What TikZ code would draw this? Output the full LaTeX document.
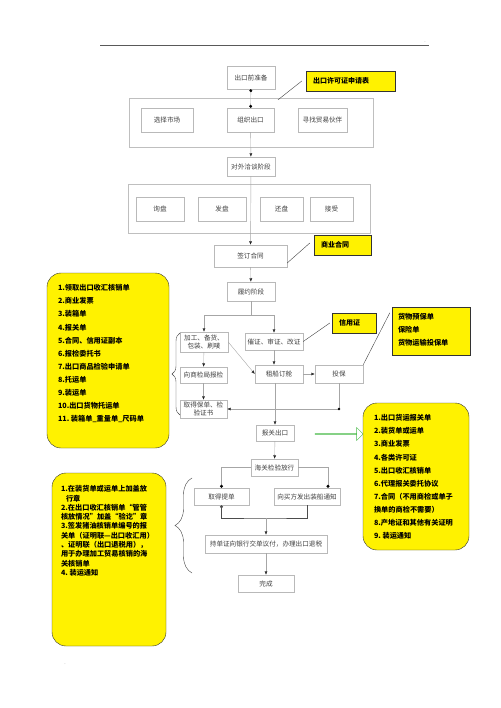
\documentclass[tikz,border=0pt]{standalone}
\usepackage{fontspec}
\setmainfont{Noto Sans CJK SC}
\usepackage{tikz}
\usetikzlibrary{arrows.meta,shapes.arrows,decorations.pathreplacing}

\begin{document}
\begin{tikzpicture}[x=1pt,y=-1pt,
  grybox/.style={draw=gray!55, fill=white, text=black!75, font=\fontsize{6.6}{8}\selectfont, inner sep=1pt, align=center, minimum width=48pt, minimum height=18pt},
  framebox/.style={draw=gray!50, inner sep=0pt},
  notebox/.style={draw=black!80, fill=yellow, font=\bfseries\fontsize{7}{8}\selectfont, inner xsep=7pt, inner ysep=0pt, align=left, minimum height=20pt},
  docbox/.style={draw=black!80, fill=yellow, rounded corners=14pt, inner sep=0pt},
  doctext/.style={font=\bfseries\fontsize{7.2}{13.1}\selectfont, align=left, inner sep=0pt, anchor=north west},
  conn/.style={draw=gray!70, -{Latex[length=3.5pt,width=3pt,color=black!85]}},
  dotend/.style={-{Circle[length=3pt,color=black]}},
  link/.style={draw=gray!70},
  pin/.style={draw=black!75}]
\useasboundingbox (0,0) rectangle (500,708);

\draw [gray!70!black, semithick] (100,45) -- (429,45);
\node [font=\tiny, text=gray, inner sep=0pt] (dotA) at (425,42) {.};
\node [font=\tiny, text=gray, inner sep=0pt] (dotB) at (65,664) {.};

% frames behind the boxes
\node [framebox, minimum width=244pt, minimum height=49pt] (orgframe) at (251,122.5) {};
\node [framebox, minimum width=242pt, minimum height=49pt] (negoframe) at (249,208.5) {};

\node [grybox, minimum height=23pt] (prep) at (251,77.5) {出口前准备};
\node [notebox, text width=75pt] (permit) at (350.5,81) {出口许可证申请表};

\node [grybox, minimum width=52pt, minimum height=24pt] (market) at (167,120) {选择市场};
\node [grybox, minimum width=47pt, minimum height=24pt] (org) at (250.5,120) {组织出口};
\node [grybox, minimum width=49pt, minimum height=24pt] (partner) at (322.5,120) {寻找贸易伙伴};

\node [grybox, minimum height=19pt] (nego) at (251,166.5) {对外洽谈阶段};

\foreach \n/\x/\w/\t in {inquiry/160/48/询盘, offer/222/48/发盘, counter/281.5/43/还盘, accept/331.5/43/接受}
  \node [grybox, minimum width=\w pt, minimum height=24pt] (\n) at (\x,209) {\t};

\node [grybox, minimum width=73pt, minimum height=22pt] (sign) at (250.5,256) {签订合同};
\node [notebox, text width=43pt] (contract) at (342.5,245) {商业合同};

\node [grybox, minimum height=19pt] (perform) at (251,291.5) {履约阶段};

\node [docbox, minimum width=122pt, minimum height=175pt] (docs1) at (108,360.5) {};
\node [doctext] (docs1list) at ([xshift=11pt,yshift=-11.5pt]docs1.north west)
  {1.领取出口收汇核销单\\2.商业发票\\3.装箱单\\4.报关单\\5.合同、信用证副本\\6.报检委托书\\7.出口商品检验申请单\\8.托运单\\9.装运单\\10.出口货物托运单\\11.\ 装箱单\_重量单\_尺码单};

\node [grybox, minimum height=20pt] (prepare) at (204,342) {加工、备货、\\包装、刷唛};
\node [grybox, minimum width=58pt, minimum height=17pt] (lc) at (274,341.5) {催证、审证、改证};
\node [notebox, text width=30pt] (lcnote) at (354,323) {信用证};

\node [docbox, rounded corners=0pt, minimum width=78pt, minimum height=48pt] (insnote) at (431,331) {};
\node [doctext, font=\bfseries\fontsize{7.2}{13}\selectfont] (insnotelist) at ([xshift=6pt,yshift=-6.5pt]insnote.north west)
  {货物预保单\\保险单\\货物运输投保单};

\node [grybox, minimum width=47pt, minimum height=16pt] (inspect) at (203.5,375) {向商检局报检};
\node [grybox, minimum height=18pt] (book) at (279,374) {租船订舱};
\node [grybox, minimum height=18pt] (insure) at (339,374) {投保};
\node [grybox, minimum width=47pt, minimum height=18pt] (cert) at (203.5,409) {取得保单、检\\验证书};

\node [grybox, minimum width=38pt, minimum height=16pt] (declare) at (275,433) {报关出口};
\node [draw=green!45!gray, fill=white, single arrow, single arrow head extend=3.5pt, minimum height=48pt, minimum width=13pt, inner sep=0pt] (toarrow) at (339,434) {};

\node [docbox, minimum width=106pt, minimum height=147pt] (docs2) at (416,476.5) {};
\node [doctext] (docs2list) at ([xshift=11pt,yshift=-11.5pt]docs2.north west)
  {1.出口货运报关单\\2.装货单或运单\\3.商业发票\\4.各类许可证\\5.出口收汇核销单\\6.代理报关委托协议\\7.合同（不用商检或单子\\换单的商检不需要）\\8.产地证和其他有关证明\\9.\ 装运通知};

\node [grybox, minimum width=47pt, minimum height=17pt] (release) at (274.5,467.5) {海关检验放行};
\node [grybox, minimum width=55pt, minimum height=17pt] (bill) at (221.5,496.5) {取得提单};
\node [grybox, minimum width=66pt, minimum height=17pt] (notify) at (307,496.5) {向买方发出装船通知};
\node [grybox, minimum width=122pt, minimum height=18pt] (settle) at (266,544) {持单证向银行交单议付，办理出口退税};
\node [grybox, minimum width=56pt, minimum height=17pt] (done) at (266,583.5) {完成};

\node [docbox, minimum width=114pt, minimum height=173pt] (docs3) at (109,559.5) {};
\node [doctext, font=\bfseries\fontsize{7.2}{9.3}\selectfont] (docs3list) at ([xshift=9pt,yshift=-12.5pt]docs3.north west)
  {1.在装货单或运单上加盖放\\\hspace{5pt}行章\\2.在出口收汇核销单“管管\\核放情况”加盖“验讫”章\\3.签发猪油核销单编号的报\\关单（证明联—出口收汇用）\\、证明联（出口退税用），\\用于办理加工贸易核销的海\\关核销单\\4.\ 装运通知};

\draw [pin, decorate, decoration={brace, amplitude=8pt}] (180,415) -- (180,333);
\draw [pin, decorate, decoration={brace, amplitude=17pt}] (192,573) -- (192,478);

\draw [link, {Circle[length=3pt,color=black]}-{Circle[length=3pt,color=black]}] (prep) -- (org);
\draw [conn] (org) -- (nego);
\draw [conn] (nego) -- (sign);
\draw [conn] (sign) -- (perform);
\draw [conn] (perform.south) -- ++(0,14) -| (prepare.north);
\draw [conn] (perform.south) -- ++(0,14) -| (lc.north);
\draw [conn] (lc.south) -- (lc.south |- book.north);
\draw [conn] (prepare) -- (inspect);
\draw [conn] (inspect) -- (cert);
\draw [conn] (prepare.east) -- (book.west);
\draw [conn] (book) -- (insure);
\coordinate (insdot) at (insure.south |- cert.east);
\draw [link] (insure.south) -- (insdot);
\draw [conn] (insdot) -- (cert.east);
\fill [black] (insdot) circle (1.4);
\draw [conn] (book.south -| declare.north) -- (declare.north);
\draw [conn] (declare) -- (release);
\draw [link, dotend] (release.west) -| (bill.north);
\draw [link, dotend] (release.east) -| ([xshift=21pt]notify.north);
\coordinate (join) at (settle.north |- 0,518);
\draw [black!70, semithick, {Circle[length=3pt]}-] (bill.south) |- (join) -| (notify.south);
\draw [conn] (join) -- (settle);
\draw [conn] (settle) -- (done);

\draw [pin] ([xshift=-4pt]permit.west) -- ([xshift=27pt,yshift=-2pt]orgframe.north);
\draw [pin] ([xshift=-4pt,yshift=2pt]contract.west) -- ([yshift=-7pt]sign.east);
\draw [pin] ([xshift=-2pt]lcnote.west) -- (lc.east);
\draw [pin] ([xshift=-2pt,yshift=-6pt]insnote.north west) -- (insure.north east);
\end{tikzpicture}
\end{document}
